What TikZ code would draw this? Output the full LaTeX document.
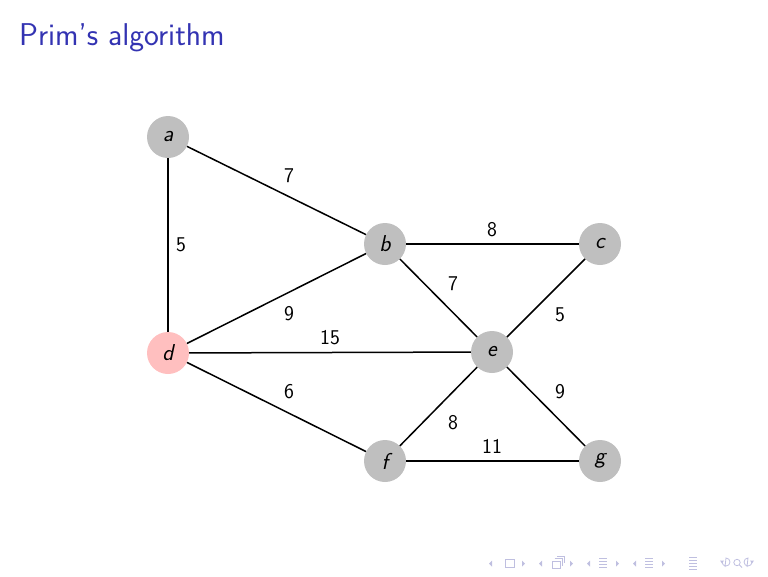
\documentclass[tikz,border=0pt]{standalone}
\usepackage{tikz}
\definecolor{struct}{rgb}{0.2,0.2,0.7}
\definecolor{navc}{rgb}{0.75,0.75,0.88}
\begin{document}
\begin{tikzpicture}[x=1pt,y=-1pt,
  vert/.style={circle,fill=black!25,minimum size=42pt,inner sep=0pt,font=\fontsize{23}{25}\selectfont\sffamily\itshape},
  start/.style={vert,fill=red!25},
  edge/.style={line width=1.5pt,black},
  wt/.style={font=\fontsize{21}{23}\selectfont\sffamily,inner sep=0pt},
  nav/.style={navc,line width=0.8pt},
  navf/.style={fill=navc}]
\useasboundingbox (0,0) rectangle (768,576);
\node[anchor=base west,text=struct,font=\fontsize{31.5}{35}\selectfont\sffamily,inner sep=0pt] (title) at (19,45) {Prim's algorithm};

\node[vert] (a) at (168,137) {a};
\node[vert] (b) at (385,244) {b};
\node[vert] (c) at (600,244) {c};
\node[start] (d) at (168,353) {d};
\node[vert] (e) at (492,352) {e};
\node[vert] (f) at (385,461) {f};
\node[vert] (g) at (600,461) {g};

\draw[edge] (a) -- (d);
\draw[edge] (a) -- (b);
\draw[edge] (b) -- (c);
\draw[edge] (b) -- (e);
\draw[edge] (d) -- (b);
\draw[edge] (d) -- (e);
\draw[edge] (c) -- (e);
\draw[edge] (e) -- (g);
\draw[edge] (d) -- (f);
\draw[edge] (e) -- (f);
\draw[edge] (f) -- (g);

\node[wt] (wad) at (181,245) {5};
\node[wt] (wab) at (289,176) {7};
\node[wt] (wbc) at (492,230) {8};
\node[wt] (wbe) at (453,284) {7};
\node[wt] (wdb) at (289,314) {9};
\node[wt] (wde) at (330,338) {15};
\node[wt] (wce) at (560,315) {5};
\node[wt] (weg) at (560,392) {9};
\node[wt] (wdf) at (289,392) {6};
\node[wt] (wef) at (453,423) {8};
\node[wt] (wfg) at (492,446) {11};

% navigation symbols
\begin{scope}
% group 1
\fill[navf] (492,560.5) -- (489,563.5) -- (492,566.5) -- cycle;
\draw[nav] (505,559.5) rectangle (514,567.5);
\fill[navf] (522,560.5) -- (525,563.5) -- (522,566.5) -- cycle;
% group 2
\fill[navf] (542,560.5) -- (539,563.5) -- (542,566.5) -- cycle;
\draw[nav] (552,561) rectangle (560,568);
\draw[nav] (554.5,558.5) -- (562.5,558.5) -- (562.5,565.5);
\draw[nav] (557,556.5) -- (564,556.5) -- (564,563);
\fill[navf] (570,560.5) -- (573,563.5) -- (570,566.5) -- cycle;
% group 3
\fill[navf] (590,560.5) -- (587,563.5) -- (590,566.5) -- cycle;
\foreach \yy in {558.5,561.5,564.5,567.5} \draw[nav] (599,\yy) -- (607,\yy);
\fill[navf] (616,560.5) -- (619,563.5) -- (616,566.5) -- cycle;
% group 4
\fill[navf] (636,560.5) -- (633,563.5) -- (636,566.5) -- cycle;
\foreach \yy in {558.5,561.5,564.5,567.5} \draw[nav] (645,\yy) -- (653,\yy);
\fill[navf] (662,560.5) -- (665,563.5) -- (662,566.5) -- cycle;
% group 5
\foreach \yy in {557.5,560.5,563.5,566.5,569} \draw[nav] (689,\yy) -- (697,\yy);
% group 6
\draw[nav] (722,562) arc (180:-90:4) -- (725,567);
\fill[navf] (720,560.5) -- (722,563.5) -- (724,560.5) -- cycle;
\draw[nav] (737,562.5) circle (3.2);
\draw[nav] (739.3,564.8) -- (742,567.5);
\draw[nav] (752,562) arc (0:270:4) -- (747,567);
\fill[navf] (750,560.5) -- (752,563.5) -- (754,560.5) -- cycle;
\end{scope}
\end{tikzpicture}
\end{document}
